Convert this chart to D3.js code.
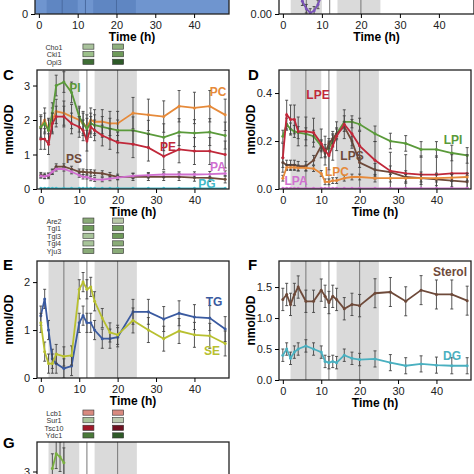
<!DOCTYPE html>
<html><head><meta charset="utf-8">
<script src="https://cdn.jsdelivr.net/npm/d3@7"></script>
<style>body{margin:0;background:#fff}text{font-family:"Liberation Sans",Arial,sans-serif}</style>
</head><body><svg id="fig" width="474" height="474"></svg>
<script>
// sampling times (h)
const times = [0,1,2,3,4,6,8,10,11,12,13,14,16,18,20,24,28,32,36,40,44,48];
const bands = [[2,10],[14,25]];
const vlines = [6,12,20];
const xTicks = [0,10,20,30,40];

// panel C
const PI = [1.8,1.9,1.7,2.2,3.0,3.1,2.8,2.1,1.9,1.75,1.9,1.85,1.8,1.75,1.7,1.7,1.6,1.5,1.65,1.62,1.65,1.55];
const PC = [1.8,2.0,1.7,2.0,2.25,2.2,2.1,2.0,1.9,1.8,2.0,1.95,1.95,1.9,1.9,2.2,2.15,2.1,2.4,2.35,2.4,2.15];
const PE = [1.45,1.45,1.3,1.9,2.1,2.1,1.9,1.8,1.7,1.4,1.8,1.7,1.55,1.45,1.35,1.3,1.2,0.95,1.15,1.1,1.1,1.0];
const PS = [0.4,0.38,0.38,0.5,0.65,0.65,0.58,0.5,0.5,0.48,0.48,0.47,0.45,0.4,0.35,0.35,0.35,0.35,0.35,0.33,0.32,0.28];
const PA = [0.38,0.36,0.4,0.5,0.58,0.58,0.5,0.4,0.35,0.35,0.3,0.28,0.27,0.3,0.33,0.38,0.4,0.42,0.42,0.42,0.43,0.45];
const PG = [0.02,0.02,0.02,0.02,0.02,0.02,0.02,0.02,0.02,0.02,0.02,0.02,0.02,0.02,0.02,0.02,0.02,0.02,0.02,0.02,0.02,0.02];
// panel D
const LPE = [0.13,0.31,0.29,0.29,0.24,0.24,0.235,0.19,0.16,0.14,0.18,0.22,0.27,0.23,0.18,0.12,0.075,0.065,0.06,0.06,0.065,0.065];
const LPI = [0.22,0.27,0.25,0.24,0.235,0.23,0.22,0.18,0.16,0.17,0.2,0.23,0.28,0.28,0.27,0.23,0.2,0.19,0.165,0.165,0.15,0.14];
const LPS = [0.11,0.1,0.1,0.1,0.095,0.095,0.12,0.18,0.15,0.19,0.21,0.23,0.26,0.2,0.11,0.08,0.07,0.05,0.045,0.04,0.035,0.03];
const LPC = [0.045,0.09,0.09,0.09,0.088,0.088,0.085,0.065,0.03,0.03,0.035,0.035,0.045,0.05,0.05,0.045,0.045,0.045,0.045,0.045,0.047,0.05];
const LPA = [0.003,0.003,0.003,0.003,0.003,0.003,0.003,0.003,0.003,0.003,0.003,0.003,0.003,0.003,0.003,0.003,0.003,0.003,0.003,0.003,0.003,0.003];
// panel E
const TG = [1.3,1.65,1.0,0.4,0.3,0.2,0.25,1.15,1.3,1.15,1.15,1.0,0.82,0.82,0.85,1.38,1.38,1.23,1.35,1.27,1.25,1.02];
const SE = [1.15,0.55,0.3,0.3,0.5,0.45,0.47,1.85,2.0,1.85,1.9,1.6,1.25,0.95,0.9,1.2,1.0,0.82,0.98,0.9,0.88,0.72];
// panel F
const Sterol = [1.3,1.38,1.22,1.38,1.5,1.27,1.27,1.45,1.35,1.25,1.35,1.3,1.15,1.22,1.2,1.4,1.42,1.27,1.45,1.38,1.38,1.28];
const DG = [0.4,0.5,0.35,0.45,0.5,0.55,0.5,0.45,0.3,0.28,0.3,0.28,0.4,0.35,0.33,0.34,0.28,0.23,0.26,0.24,0.23,0.23];
// panel B fragment
const bTimes = [3,4,5,6,7,8,9,10,11,12];
const bVals = [0.03,0.02,0.012,0.005,0.001,0.003,0.009,0.018,0.026,0.034];
// panel G fragment
const gTimes = [3,4,5,6];
const gVals = [3.1,3.6,3.5,3.3];

const geneCols = [12, 20];
const genesC = ["Cho1","Cki1","Opi3"];
const genesCColors = [["#a9c29c","#8fb07e"],["#9cc08a","#6e9a5a"],["#3f6e35","#2e5a28"]];
const genesE = ["Are2","Tgl1","Tgl3","Tgl4","Yju3"];
const genesEColors = [["#8aab78","#b8c8a8"],["#6e9a5a","#6e9a5a"],["#a8c49a","#6e9a5a"],["#a8c49a","#8aab78"],["#8aab78","#8aab78"]];
const genesG = ["Lcb1","Sur1","Tsc10","Ydc1"];
const genesGColors = [["#d98a80","#d98a80"],["#a8c49a","#bccab0"],["#a01828","#6e1020"],["#4a7a3a","#2e5a28"]];

const svg = d3.select('#fig');
const ff = '"Liberation Sans",Arial,sans-serif';

function panel(o) {
  const g = svg.append('g');
  const x = d3.scaleLinear().domain([-1, 49]).range([o.left, o.right]);
  const y = d3.scaleLinear().domain(o.ydom).range([o.bottom, o.top]);
  const cid = 'c' + Math.round(o.left) + '_' + Math.round(o.top);
  g.append('clipPath').attr('id', cid).append('rect')
    .attr('x', o.left).attr('y', o.top).attr('width', o.right - o.left).attr('height', o.bottom - o.top);
  const inner = g.append('g').attr('clip-path', `url(#${cid})`);
  if (o.bg) inner.append('rect').attr('x', o.left).attr('y', o.top).attr('width', o.right - o.left).attr('height', o.bottom - o.top).attr('fill', o.bg);
  bands.forEach(b => inner.append('rect').attr('x', x(b[0])).attr('width', x(b[1]) - x(b[0]))
    .attr('y', o.top).attr('height', o.bottom - o.top).attr('fill', o.bandFill || '#dadada'));
  vlines.forEach(v => inner.append('line').attr('x1', x(v)).attr('x2', x(v)).attr('y1', o.top).attr('y2', o.bottom)
    .attr('stroke', o.vlineColor || '#777').attr('stroke-width', 1));
  (o.series || []).forEach(s => {
    const ts = s.t || times;
    if (s.err) ts.forEach((t, i) => {
      const e = s.err * (i < 15 ? 1 : 1.3);
      inner.append('line').attr('x1', x(t)).attr('x2', x(t)).attr('y1', y(s.v[i] - e)).attr('y2', y(s.v[i] + e)).attr('stroke', '#444').attr('stroke-width', 0.9);
      [-e, e].forEach(d => inner.append('line').attr('x1', x(t) - 1.5).attr('x2', x(t) + 1.5).attr('y1', y(s.v[i] + d)).attr('y2', y(s.v[i] + d)).attr('stroke', '#444').attr('stroke-width', 0.9));
    });
    inner.append('path').datum(s.v).attr('fill', 'none').attr('stroke', s.c).attr('stroke-width', 1.8)
      .attr('d', d3.line().x((d, i) => x(ts[i])).y(d => y(d)));
    inner.selectAll(null).data(s.v).join('circle').attr('cx', (d, i) => x(ts[i])).attr('cy', d => y(d)).attr('r', 1.5).attr('fill', s.c);
    if (s.label) g.append('text').attr('x', s.lx).attr('y', s.ly).attr('fill', s.c).attr('font-size', 12).attr('font-weight', 'bold')
      .attr('text-anchor', 'middle').text(s.label);
  });
  g.append('rect').attr('x', o.left).attr('y', o.top).attr('width', o.right - o.left).attr('height', o.bottom - o.top)
    .attr('fill', 'none').attr('stroke', '#222').attr('stroke-width', 1.3);
  if (!o.noX) {
    const ax = g.append('g').attr('transform', `translate(0,${o.bottom})`)
      .call(d3.axisBottom(x).tickValues(xTicks).tickSize(4).tickSizeOuter(0));
    ax.select('.domain').remove();
    ax.selectAll('text').attr('font-size', 11).attr('font-family', ff).attr('fill', '#222');
    g.append('text').attr('x', x(24)).attr('y', o.bottom + 27).attr('text-anchor', 'middle')
      .attr('font-size', 12).attr('font-weight', 'bold').text('Time (h)');
  }
  if (o.yTicks) {
    const ay = g.append('g').attr('transform', `translate(${o.left},0)`)
      .call(d3.axisLeft(y).tickValues(o.yTicks).tickFormat(o.yFmt || d3.format('')).tickSize(4).tickSizeOuter(0));
    ay.select('.domain').remove();
    ay.selectAll('text').attr('font-size', 11).attr('font-family', ff).attr('fill', '#222');
  }
  if (o.ylabel) g.append('text').attr('transform', `translate(${o.left - 24},${(o.top + o.bottom) / 2}) rotate(-90)`)
    .attr('text-anchor', 'middle').attr('font-size', 12).attr('font-weight', 'bold').text(o.ylabel);
  if (o.letter) svg.append('text').attr('x', o.letter[1]).attr('y', o.letter[2]).attr('font-size', 15).attr('font-weight', 'bold').text(o.letter[0]);
  return x;
}

function genes(x, names, colors, top) {
  names.forEach((n, i) => {
    const yy = top + i * 7.6;
    svg.append('text').attr('x', 54).attr('y', yy + 5.5).attr('text-anchor', 'middle').attr('font-size', 7.2).attr('fill', '#333').text(n);
    geneCols.forEach((t, j) => svg.append('rect').attr('x', x(t) - 5 + (j ? 0 : 1)).attr('y', yy).attr('width', 11).attr('height', 5.2)
      .attr('fill', colors[i][j]).attr('stroke', '#333').attr('stroke-width', 0.6));
  });
}

// A (cut off top)
panel({left: 35, right: 229, top: -20, bottom: 14, ydom: [0, 1], yTicks: [0], bg: '#6f95cf', bandFill: '#5f86c2', vlineColor: '#4a6aa0'});
// B (cut off top)
panel({left: 279, right: 474, top: -20, bottom: 14, ydom: [0, 0.032], yTicks: [0], yFmt: d3.format('.2f'),
  series: [{v: bVals, t: bTimes, c: '#7a52b8', err: 0.004}]});

const xC = panel({left: 37, right: 229, top: 70, bottom: 189, ydom: [0, 3.45], yTicks: [0,1,2,3], ylabel: 'nmol/OD', letter: ['C', 3, 80],
  series: [
    {v: PC, c: '#e68a3a', err: 0.35, label: 'PC', lx: 218, ly: 96},
    {v: PI, c: '#5a9a3a', err: 0.3, label: 'PI', lx: 75, ly: 92},
    {v: PE, c: '#c0283a', err: 0.3, label: 'PE', lx: 168, ly: 151},
    {v: PS, c: '#6e4a3a', err: 0.08, label: 'PS', lx: 74, ly: 163},
    {v: PA, c: '#d070d0', err: 0.06, label: 'PA', lx: 218, ly: 171},
    {v: PG, c: '#40b8c8', label: 'PG', lx: 207, ly: 188}
  ]});
genes(xC, genesC, genesCColors, 44);

panel({left: 279, right: 471, top: 70, bottom: 189, ydom: [0, 0.496], yTicks: [0,0.2,0.4], yFmt: d3.format('.1f'), ylabel: 'nmol/OD', letter: ['D', 248, 80],
  series: [
    {v: LPI, c: '#5a9a3a', err: 0.025, label: 'LPI', lx: 453, ly: 144},
    {v: LPS, c: '#6e4a3a', err: 0.02, label: 'LPS', lx: 352, ly: 160},
    {v: LPE, c: '#c0283a', err: 0.06, label: 'LPE', lx: 318, ly: 99},
    {v: LPC, c: '#e68a3a', err: 0.012, label: 'LPC', lx: 337, ly: 176},
    {v: LPA, c: '#d070d0', label: 'LPA', lx: 296, ly: 185}
  ]});

const xE = panel({left: 37, right: 229, top: 261, bottom: 378, ydom: [0, 2.44], yTicks: [0,1,2], ylabel: 'nmol/OD', letter: ['E', 3, 270],
  series: [
    {v: TG, c: '#3a5aa0', err: 0.2, label: 'TG', lx: 214, ly: 306},
    {v: SE, c: '#b8c030', err: 0.2, label: 'SE', lx: 212, ly: 355}
  ]});
genes(xE, genesE, genesEColors, 218);

panel({left: 279, right: 471, top: 261, bottom: 380, ydom: [0, 1.92], yTicks: [0,0.5,1,1.5], yFmt: d3.format('.1f'), ylabel: 'nmol/OD', letter: ['F', 248, 270],
  series: [
    {v: Sterol, c: '#6e4a3a', err: 0.18, label: 'Sterol', lx: 450, ly: 276},
    {v: DG, c: '#4ab0c0', err: 0.1, label: 'DG', lx: 452, ly: 360}
  ]});

const xG = panel({left: 37, right: 229, top: 442, bottom: 560, ydom: [0, 4], yTicks: [3], letter: ['G', 3, 448], noX: true,
  series: [{v: gVals, t: gTimes, c: '#7ab040', err: 0.5}]});
genes(xG, genesG, genesGColors, 410);
</script></body></html>
